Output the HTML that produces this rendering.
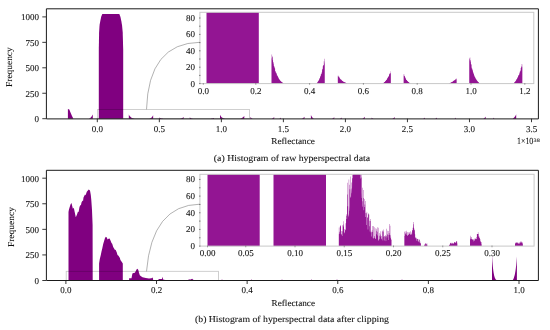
<!DOCTYPE html>
<html><head><meta charset="utf-8"><style>
html,body{margin:0;padding:0;background:#fff;}
svg{display:block;font-family:'Liberation Serif', 'DejaVu Serif', serif;text-rendering:geometricPrecision;}
</style></head><body>
<svg width="550" height="330" viewBox="0 0 550 330">
<rect width="550" height="330" fill="#fff"/>
<polygon points="98.80,118.70 98.80,50.00 99.10,32.30 99.60,25.00 100.20,21.40 101.20,16.80 102.30,14.10 119.30,14.10 120.40,16.80 121.30,21.00 122.00,25.00 122.70,32.30 123.20,50.00 123.20,118.70" fill="#800080" />
<polygon points="67.90,118.70 67.90,109.10 69.30,109.60 70.50,112.50 72.00,116.00 73.40,118.70" fill="#800080" />
<polygon points="92.80,118.70 92.80,114.40 92.48,115.05 92.17,115.62 91.85,116.13 91.53,116.58 91.22,116.97 90.90,117.32 90.58,117.63 90.27,117.90 89.95,118.14 89.63,118.35 89.32,118.54 89.00,118.70" fill="#800080" />
<polygon points="128.81,118.70 128.81,114.55 129.27,115.38 129.74,116.06 130.20,116.61 130.67,117.06 131.13,117.44 131.60,117.74 132.06,117.99 132.53,118.19 132.99,118.36 133.46,118.50 133.92,118.61 134.39,118.70" fill="#800080" />
<polygon points="153.15,118.70 153.15,115.26 152.85,115.81 152.55,116.30 152.25,116.72 151.95,117.08 151.65,117.40 151.35,117.67 151.05,117.91 150.75,118.11 150.45,118.29 150.15,118.45 149.85,118.58 149.55,118.70" fill="#800080" />
<polygon points="159.33,118.70 159.33,117.51 159.71,117.72 160.09,117.90 160.48,118.05 160.86,118.18 161.25,118.29 161.63,118.38 162.01,118.46 162.40,118.52 162.78,118.58 163.17,118.63 163.55,118.67 163.94,118.70" fill="#800080" />
<polygon points="183.62,118.70 183.62,116.99 183.31,117.26 183.01,117.49 182.70,117.70 182.39,117.88 182.08,118.03 181.78,118.17 181.47,118.29 181.16,118.40 180.85,118.49 180.55,118.57 180.24,118.64 179.93,118.70" fill="#800080" />
<polygon points="189.71,118.70 189.71,117.38 189.97,117.62 190.24,117.81 190.51,117.98 190.78,118.12 191.05,118.24 191.32,118.35 191.59,118.43 191.86,118.50 192.13,118.57 192.39,118.62 192.66,118.66 192.93,118.70" fill="#800080" />
<polygon points="213.95,118.70 213.95,118.00 213.65,118.09 213.34,118.18 213.03,118.26 212.72,118.33 212.42,118.39 212.11,118.45 211.80,118.50 211.50,118.55 211.19,118.59 210.88,118.63 210.57,118.67 210.27,118.70" fill="#800080" />
<polygon points="219.99,118.70 219.99,114.71 220.40,115.51 220.80,116.16 221.20,116.69 221.61,117.13 222.01,117.48 222.41,117.78 222.82,118.02 223.22,118.21 223.62,118.37 224.03,118.50 224.43,118.61 224.83,118.70" fill="#800080" />
<polygon points="244.29,118.70 244.29,115.97 243.96,116.37 243.63,116.73 243.30,117.04 242.97,117.32 242.64,117.57 242.31,117.80 241.98,117.99 241.64,118.17 241.31,118.33 240.98,118.47 240.65,118.59 240.32,118.70" fill="#800080" />
<polygon points="250.30,118.70 250.30,117.00 250.51,117.26 250.72,117.48 250.93,117.68 251.13,117.86 251.34,118.02 251.55,118.15 251.76,118.28 251.97,118.38 252.18,118.48 252.38,118.56 252.59,118.63 252.80,118.70" fill="#800080" />
<polygon points="310.90,118.70 310.90,115.00 311.15,115.56 311.40,116.05 311.65,116.49 311.90,116.87 312.15,117.21 312.40,117.51 312.65,117.78 312.90,118.01 313.15,118.22 313.40,118.40 313.65,118.56 313.90,118.70" fill="#800080" />
<polygon points="371.50,118.70 371.50,117.60 371.67,117.77 371.83,117.91 372.00,118.04 372.17,118.16 372.33,118.26 372.50,118.35 372.67,118.43 372.83,118.50 373.00,118.56 373.17,118.61 373.33,118.66 373.50,118.70" fill="#800080" />
<polygon points="493.00,118.70 493.00,117.60 493.12,117.77 493.25,117.91 493.38,118.04 493.50,118.16 493.62,118.26 493.75,118.35 493.88,118.43 494.00,118.50 494.12,118.56 494.25,118.61 494.38,118.66 494.50,118.70" fill="#800080" />
<polygon points="274.20,118.70 274.20,117.00 273.99,117.23 273.78,117.44 273.57,117.63 273.37,117.80 273.16,117.96 272.95,118.10 272.74,118.22 272.53,118.34 272.32,118.44 272.12,118.54 271.91,118.62 271.70,118.70" fill="#800080" />
<polygon points="281.00,118.70 281.00,117.60 280.85,117.75 280.70,117.89 280.55,118.01 280.40,118.12 280.25,118.22 280.10,118.31 279.95,118.39 279.80,118.47 279.65,118.53 279.50,118.60 279.35,118.65 279.20,118.70" fill="#800080" />
<polygon points="304.50,118.70 304.50,116.80 304.27,117.06 304.03,117.29 303.80,117.50 303.57,117.70 303.33,117.87 303.10,118.03 302.87,118.17 302.63,118.30 302.40,118.41 302.17,118.52 301.93,118.61 301.70,118.70" fill="#800080" />
<polygon points="334.30,118.70 334.30,117.20 334.09,117.40 333.88,117.59 333.68,117.76 333.47,117.91 333.26,118.04 333.05,118.17 332.84,118.28 332.63,118.38 332.43,118.47 332.22,118.56 332.01,118.63 331.80,118.70" fill="#800080" />
<polygon points="341.80,118.70 341.80,117.50 341.63,117.66 341.47,117.81 341.30,117.95 341.13,118.07 340.97,118.18 340.80,118.27 340.63,118.36 340.47,118.45 340.30,118.52 340.13,118.59 339.97,118.65 339.80,118.70" fill="#800080" />
<polygon points="364.80,118.70 364.80,116.80 364.59,117.06 364.38,117.29 364.18,117.50 363.97,117.70 363.76,117.87 363.55,118.03 363.34,118.17 363.13,118.30 362.93,118.41 362.72,118.52 362.51,118.61 362.30,118.70" fill="#800080" />
<polygon points="394.80,118.70 394.80,117.00 394.59,117.23 394.38,117.44 394.18,117.63 393.97,117.80 393.76,117.96 393.55,118.10 393.34,118.22 393.13,118.34 392.93,118.44 392.72,118.54 392.51,118.62 392.30,118.70" fill="#800080" />
<polygon points="425.00,118.70 425.00,117.60 424.83,117.75 424.67,117.89 424.50,118.01 424.33,118.12 424.17,118.22 424.00,118.31 423.83,118.39 423.67,118.47 423.50,118.53 423.33,118.60 423.17,118.65 423.00,118.70" fill="#800080" />
<polygon points="437.00,118.70 437.00,117.60 436.83,117.75 436.67,117.89 436.50,118.01 436.33,118.12 436.17,118.22 436.00,118.31 435.83,118.39 435.67,118.47 435.50,118.53 435.33,118.60 435.17,118.65 435.00,118.70" fill="#800080" />
<polygon points="456.00,118.70 456.00,117.60 455.88,117.75 455.75,117.89 455.62,118.01 455.50,118.12 455.38,118.22 455.25,118.31 455.12,118.39 455.00,118.47 454.88,118.53 454.75,118.60 454.62,118.65 454.50,118.70" fill="#800080" />
<polygon points="485.80,118.70 485.80,116.60 485.59,116.89 485.38,117.14 485.18,117.38 484.97,117.59 484.76,117.78 484.55,117.96 484.34,118.11 484.13,118.25 483.93,118.38 483.72,118.50 483.51,118.60 483.30,118.70" fill="#800080" />
<polygon points="516.20,118.70 516.20,114.30 515.91,114.90 515.62,115.44 515.33,115.93 515.03,116.38 514.74,116.78 514.45,117.14 514.16,117.47 513.87,117.77 513.58,118.04 513.28,118.28 512.99,118.50 512.70,118.70" fill="#800080" />
<rect x="97.7" y="109.4" width="151.8" height="9.3" fill="none" stroke="#000" stroke-opacity="0.24" stroke-width="0.8"/>
<path d="M46.4,8.8 H538.4 V118.9 H46.4 Z" fill="none" stroke="#1a1a1a" stroke-width="1.0" stroke-linejoin="miter"/>
<line x1="42.3" y1="118.70" x2="46.0" y2="118.70" stroke="#222" stroke-width="0.9"/>
<text x="38.90" y="122.20" font-size="9" text-anchor="end" fill="#111" stroke="#111" stroke-width="0.08" >0</text>
<line x1="42.3" y1="93.25" x2="46.0" y2="93.25" stroke="#222" stroke-width="0.9"/>
<text x="38.90" y="96.75" font-size="9" text-anchor="end" fill="#111" stroke="#111" stroke-width="0.08" >250</text>
<line x1="42.3" y1="67.80" x2="46.0" y2="67.80" stroke="#222" stroke-width="0.9"/>
<text x="38.90" y="71.30" font-size="9" text-anchor="end" fill="#111" stroke="#111" stroke-width="0.08" >500</text>
<line x1="42.3" y1="42.35" x2="46.0" y2="42.35" stroke="#222" stroke-width="0.9"/>
<text x="38.90" y="45.85" font-size="9" text-anchor="end" fill="#111" stroke="#111" stroke-width="0.08" >750</text>
<line x1="42.3" y1="16.90" x2="46.0" y2="16.90" stroke="#222" stroke-width="0.9"/>
<text x="38.90" y="20.40" font-size="9" text-anchor="end" fill="#111" stroke="#111" stroke-width="0.08" >1000</text>
<line x1="97.30" y1="118.7" x2="97.30" y2="122.2" stroke="#222" stroke-width="0.9"/>
<text x="97.30" y="131.70" font-size="9" text-anchor="middle" fill="#111" stroke="#111" stroke-width="0.08" >0.0</text>
<line x1="159.33" y1="118.7" x2="159.33" y2="122.2" stroke="#222" stroke-width="0.9"/>
<text x="159.33" y="131.70" font-size="9" text-anchor="middle" fill="#111" stroke="#111" stroke-width="0.08" >0.5</text>
<line x1="221.36" y1="118.7" x2="221.36" y2="122.2" stroke="#222" stroke-width="0.9"/>
<text x="221.36" y="131.70" font-size="9" text-anchor="middle" fill="#111" stroke="#111" stroke-width="0.08" >1.0</text>
<line x1="283.39" y1="118.7" x2="283.39" y2="122.2" stroke="#222" stroke-width="0.9"/>
<text x="283.39" y="131.70" font-size="9" text-anchor="middle" fill="#111" stroke="#111" stroke-width="0.08" >1.5</text>
<line x1="345.42" y1="118.7" x2="345.42" y2="122.2" stroke="#222" stroke-width="0.9"/>
<text x="345.42" y="131.70" font-size="9" text-anchor="middle" fill="#111" stroke="#111" stroke-width="0.08" >2.0</text>
<line x1="407.45" y1="118.7" x2="407.45" y2="122.2" stroke="#222" stroke-width="0.9"/>
<text x="407.45" y="131.70" font-size="9" text-anchor="middle" fill="#111" stroke="#111" stroke-width="0.08" >2.5</text>
<line x1="469.48" y1="118.7" x2="469.48" y2="122.2" stroke="#222" stroke-width="0.9"/>
<text x="469.48" y="131.70" font-size="9" text-anchor="middle" fill="#111" stroke="#111" stroke-width="0.08" >3.0</text>
<line x1="531.51" y1="118.7" x2="531.51" y2="122.2" stroke="#222" stroke-width="0.9"/>
<text x="531.51" y="131.70" font-size="9" text-anchor="middle" fill="#111" stroke="#111" stroke-width="0.08" >3.5</text>
<text x="517.00" y="144.00" font-size="9.3" text-anchor="start" fill="#111" stroke="#111" stroke-width="0.08" textLength="16.3" lengthAdjust="spacingAndGlyphs">1×10</text>
<text x="533.60" y="141.60" font-size="5.2" text-anchor="start" fill="#111" stroke="#111" stroke-width="0.08" textLength="6.2" lengthAdjust="spacingAndGlyphs">38</text>
<text x="293.10" y="144.30" font-size="9" text-anchor="middle" fill="#111" stroke="#111" stroke-width="0.08" textLength="43.8" lengthAdjust="spacingAndGlyphs">Reflectance</text>
<text x="292.00" y="160.60" font-size="9" text-anchor="middle" fill="#111" stroke="#111" stroke-width="0.08" textLength="156.3" lengthAdjust="spacingAndGlyphs">(a) Histogram of raw hyperspectral data</text>
<text transform="translate(12.2,67.1) rotate(-90)" x="0" y="0" font-size="9" text-anchor="middle" fill="#111" stroke="#111" stroke-width="0.08" textLength="39.6" lengthAdjust="spacingAndGlyphs">Frequency</text>
<path d="M146.5,109.4 Q148.5,43 199.9,42.3" fill="none" stroke="#888" stroke-width="0.65"/>
<rect x="199.9" y="12.3" width="333.9" height="71.3" fill="#fff"/>
<rect x="206.5" y="12.3" width="52.30000000000001" height="71.3" fill="#931593"/>
<polygon points="271.70,83.60 271.70,57.52 272.20,60.12 272.71,62.72 273.21,64.85 273.72,66.98 274.22,68.72 274.73,70.46 275.23,71.89 275.73,73.32 276.24,74.48 276.74,75.65 277.25,76.61 277.75,77.56 278.25,78.35 278.76,79.13 279.26,79.77 279.77,80.41 280.27,80.94 280.77,81.46 281.28,81.89 281.78,82.32 282.29,82.67 282.79,83.02 283.30,83.31 283.80,83.60 283.80,83.60" fill="#931593" />
<path d="M271.70,83.6V54.53h0.34V83.6ZM272.04,83.6V56.19h0.34V83.6ZM272.38,83.6V57.31h0.34V83.6ZM272.72,83.6V60.36h0.34V83.6ZM273.06,83.6V61.90h0.34V83.6ZM273.40,83.6V63.38h0.34V83.6ZM273.74,83.6V66.01h0.34V83.6ZM274.08,83.6V66.42h0.34V83.6ZM274.42,83.6V67.57h0.34V83.6ZM274.76,83.6V68.56h0.34V83.6ZM275.10,83.6V71.13h0.34V83.6ZM275.44,83.6V71.60h0.34V83.6ZM275.78,83.6V73.09h0.34V83.6ZM276.12,83.6V72.81h0.34V83.6ZM276.46,83.6V73.87h0.34V83.6ZM276.80,83.6V75.69h0.34V83.6ZM277.14,83.6V75.23h0.34V83.6ZM277.48,83.6V76.03h0.34V83.6ZM277.82,83.6V76.91h0.34V83.6ZM278.16,83.6V77.56h0.34V83.6ZM278.50,83.6V78.55h0.34V83.6ZM278.84,83.6V79.31h0.34V83.6ZM279.18,83.6V79.27h0.34V83.6ZM279.52,83.6V80.11h0.34V83.6ZM279.86,83.6V80.38h0.34V83.6ZM280.20,83.6V80.74h0.34V83.6ZM280.54,83.6V81.29h0.34V83.6ZM280.88,83.6V81.40h0.34V83.6ZM281.22,83.6V81.74h0.34V83.6ZM281.56,83.6V82.01h0.34V83.6ZM281.90,83.6V82.34h0.34V83.6ZM282.24,83.6V82.61h0.34V83.6ZM282.58,83.6V82.90h0.34V83.6ZM282.92,83.6V83.12h0.34V83.6ZM283.26,83.6V83.36h0.34V83.6ZM283.60,83.6V83.54h0.20V83.6Z" fill="#931593"/>
<polygon points="316.70,83.60 316.70,83.60 317.22,83.01 317.74,82.35 318.26,81.62 318.78,80.81 319.30,79.91 319.82,78.87 320.34,77.72 320.86,76.43 321.38,75.00 321.90,73.41 322.42,71.58 322.94,69.54 323.46,67.27 323.98,64.75 324.50,61.95 324.50,83.60" fill="#931593" />
<path d="M316.70,83.6V83.37h0.34V83.6ZM317.04,83.6V82.90h0.34V83.6ZM317.38,83.6V82.39h0.34V83.6ZM317.72,83.6V81.87h0.34V83.6ZM318.06,83.6V81.41h0.34V83.6ZM318.40,83.6V80.86h0.34V83.6ZM318.74,83.6V80.21h0.34V83.6ZM319.08,83.6V79.76h0.34V83.6ZM319.42,83.6V78.50h0.34V83.6ZM319.76,83.6V77.90h0.34V83.6ZM320.10,83.6V76.70h0.34V83.6ZM320.44,83.6V76.11h0.34V83.6ZM320.78,83.6V74.58h0.34V83.6ZM321.12,83.6V73.54h0.34V83.6ZM321.46,83.6V74.16h0.34V83.6ZM321.80,83.6V72.03h0.34V83.6ZM322.14,83.6V69.52h0.34V83.6ZM322.48,83.6V68.66h0.34V83.6ZM322.82,83.6V66.22h0.34V83.6ZM323.16,83.6V65.56h0.34V83.6ZM323.50,83.6V65.08h0.34V83.6ZM323.84,83.6V61.20h0.34V83.6ZM324.18,83.6V58.74h0.32V83.6Z" fill="#931593"/>
<polygon points="337.90,83.60 337.90,76.14 338.40,76.93 338.90,77.69 339.40,78.36 339.90,78.96 340.40,79.53 340.90,80.02 341.40,80.47 341.90,80.88 342.40,81.25 342.90,81.59 343.40,81.89 343.90,82.16 344.40,82.41 344.90,82.63 345.40,82.84 345.90,83.02 346.40,83.19 346.90,83.34 347.40,83.47 347.90,83.60 347.90,83.60" fill="#931593" />
<path d="M337.90,83.6V75.53h0.34V83.6ZM338.24,83.6V76.46h0.34V83.6ZM338.58,83.6V76.64h0.34V83.6ZM338.92,83.6V76.72h0.34V83.6ZM339.26,83.6V77.39h0.34V83.6ZM339.60,83.6V78.40h0.34V83.6ZM339.94,83.6V78.69h0.34V83.6ZM340.28,83.6V79.27h0.34V83.6ZM340.62,83.6V79.68h0.34V83.6ZM340.96,83.6V79.56h0.34V83.6ZM341.30,83.6V80.22h0.34V83.6ZM341.64,83.6V80.34h0.34V83.6ZM341.98,83.6V80.68h0.34V83.6ZM342.32,83.6V81.07h0.34V83.6ZM342.66,83.6V81.15h0.34V83.6ZM343.00,83.6V81.59h0.34V83.6ZM343.34,83.6V81.65h0.34V83.6ZM343.68,83.6V82.01h0.34V83.6ZM344.02,83.6V82.11h0.34V83.6ZM344.36,83.6V82.34h0.34V83.6ZM344.70,83.6V82.50h0.34V83.6ZM345.04,83.6V82.58h0.34V83.6ZM345.38,83.6V82.76h0.34V83.6ZM345.72,83.6V82.94h0.34V83.6ZM346.06,83.6V83.03h0.34V83.6ZM346.40,83.6V83.20h0.34V83.6ZM346.74,83.6V83.30h0.34V83.6ZM347.08,83.6V83.40h0.34V83.6ZM347.42,83.6V83.51h0.34V83.6ZM347.76,83.6V83.58h0.14V83.6Z" fill="#931593"/>
<polygon points="382.60,83.60 382.60,83.60 383.10,83.31 383.60,82.99 384.10,82.64 384.60,82.26 385.10,81.83 385.60,81.35 386.10,80.84 386.60,80.27 387.10,79.62 387.60,78.91 388.10,78.14 388.60,77.30 389.10,76.33 389.60,75.27 390.10,74.12 390.60,72.86 390.60,83.60" fill="#931593" />
<path d="M382.60,83.6V83.48h0.34V83.6ZM382.94,83.6V83.27h0.34V83.6ZM383.28,83.6V83.03h0.34V83.6ZM383.62,83.6V82.71h0.34V83.6ZM383.96,83.6V82.49h0.34V83.6ZM384.30,83.6V82.20h0.34V83.6ZM384.64,83.6V81.98h0.34V83.6ZM384.98,83.6V81.65h0.34V83.6ZM385.32,83.6V81.09h0.34V83.6ZM385.66,83.6V80.83h0.34V83.6ZM386.00,83.6V80.26h0.34V83.6ZM386.34,83.6V79.92h0.34V83.6ZM386.68,83.6V79.38h0.34V83.6ZM387.02,83.6V78.61h0.34V83.6ZM387.36,83.6V78.29h0.34V83.6ZM387.70,83.6V77.62h0.34V83.6ZM388.04,83.6V76.79h0.34V83.6ZM388.38,83.6V76.74h0.34V83.6ZM388.72,83.6V76.09h0.34V83.6ZM389.06,83.6V74.47h0.34V83.6ZM389.40,83.6V73.68h0.34V83.6ZM389.74,83.6V73.49h0.34V83.6ZM390.08,83.6V72.72h0.34V83.6ZM390.42,83.6V71.07h0.18V83.6Z" fill="#931593"/>
<polygon points="403.80,83.60 403.80,75.32 404.30,76.58 404.80,77.68 405.30,78.64 405.80,79.47 406.30,80.19 406.80,80.82 407.30,81.37 407.80,81.84 408.30,82.24 408.80,82.59 409.30,82.90 409.80,83.17 410.30,83.40 410.80,83.60 410.80,83.60" fill="#931593" />
<path d="M403.80,83.6V74.07h0.34V83.6ZM404.14,83.6V75.86h0.34V83.6ZM404.48,83.6V76.01h0.34V83.6ZM404.82,83.6V76.89h0.34V83.6ZM405.16,83.6V77.83h0.34V83.6ZM405.50,83.6V78.61h0.34V83.6ZM405.84,83.6V79.47h0.34V83.6ZM406.18,83.6V80.09h0.34V83.6ZM406.52,83.6V80.06h0.34V83.6ZM406.86,83.6V80.79h0.34V83.6ZM407.20,83.6V81.03h0.34V83.6ZM407.54,83.6V81.53h0.34V83.6ZM407.88,83.6V81.72h0.34V83.6ZM408.22,83.6V82.08h0.34V83.6ZM408.56,83.6V82.41h0.34V83.6ZM408.90,83.6V82.67h0.34V83.6ZM409.24,83.6V82.84h0.34V83.6ZM409.58,83.6V83.11h0.34V83.6ZM409.92,83.6V83.27h0.34V83.6ZM410.26,83.6V83.43h0.34V83.6ZM410.60,83.6V83.55h0.20V83.6Z" fill="#931593"/>
<polygon points="448.40,83.60 448.40,83.60 448.90,83.45 449.40,83.29 449.90,83.12 450.40,82.93 450.90,82.73 451.40,82.51 451.90,82.28 452.40,82.03 452.90,81.76 453.40,81.46 453.90,81.15 454.40,80.81 454.90,80.44 455.40,80.05 455.90,79.62 456.40,79.17 456.40,83.60" fill="#931593" />
<path d="M448.40,83.6V83.54h0.34V83.6ZM448.74,83.6V83.43h0.34V83.6ZM449.08,83.6V83.28h0.34V83.6ZM449.42,83.6V83.18h0.34V83.6ZM449.76,83.6V83.09h0.34V83.6ZM450.10,83.6V82.90h0.34V83.6ZM450.44,83.6V82.73h0.34V83.6ZM450.78,83.6V82.65h0.34V83.6ZM451.12,83.6V82.45h0.34V83.6ZM451.46,83.6V82.24h0.34V83.6ZM451.80,83.6V82.01h0.34V83.6ZM452.14,83.6V81.94h0.34V83.6ZM452.48,83.6V81.66h0.34V83.6ZM452.82,83.6V81.31h0.34V83.6ZM453.16,83.6V81.05h0.34V83.6ZM453.50,83.6V80.87h0.34V83.6ZM453.84,83.6V80.61h0.34V83.6ZM454.18,83.6V80.37h0.34V83.6ZM454.52,83.6V80.33h0.34V83.6ZM454.86,83.6V80.18h0.34V83.6ZM455.20,83.6V79.94h0.34V83.6ZM455.54,83.6V78.98h0.34V83.6ZM455.88,83.6V78.72h0.34V83.6ZM456.22,83.6V78.32h0.18V83.6Z" fill="#931593"/>
<polygon points="469.50,83.60 469.50,58.51 470.00,61.37 470.50,64.10 471.00,66.44 471.50,68.56 472.00,70.48 472.50,72.14 473.00,73.70 473.50,74.99 474.00,76.21 474.50,77.27 475.00,78.22 475.50,79.08 476.00,79.83 476.50,80.53 477.00,81.11 477.50,81.66 478.00,82.13 478.50,82.56 479.00,82.95 479.50,83.28 480.00,83.60 480.00,83.60" fill="#931593" />
<path d="M469.50,83.6V58.54h0.34V83.6ZM469.84,83.6V57.45h0.34V83.6ZM470.18,83.6V60.06h0.34V83.6ZM470.52,83.6V61.44h0.34V83.6ZM470.86,83.6V64.33h0.34V83.6ZM471.20,83.6V64.59h0.34V83.6ZM471.54,83.6V68.39h0.34V83.6ZM471.88,83.6V68.48h0.34V83.6ZM472.22,83.6V69.51h0.34V83.6ZM472.56,83.6V70.61h0.34V83.6ZM472.90,83.6V72.02h0.34V83.6ZM473.24,83.6V73.10h0.34V83.6ZM473.58,83.6V74.02h0.34V83.6ZM473.92,83.6V74.89h0.34V83.6ZM474.26,83.6V76.23h0.34V83.6ZM474.60,83.6V76.71h0.34V83.6ZM474.94,83.6V77.33h0.34V83.6ZM475.28,83.6V78.05h0.34V83.6ZM475.62,83.6V78.91h0.34V83.6ZM475.96,83.6V79.30h0.34V83.6ZM476.30,83.6V79.85h0.34V83.6ZM476.64,83.6V80.43h0.34V83.6ZM476.98,83.6V80.86h0.34V83.6ZM477.32,83.6V81.37h0.34V83.6ZM477.66,83.6V81.69h0.34V83.6ZM478.00,83.6V82.05h0.34V83.6ZM478.34,83.6V82.50h0.34V83.6ZM478.68,83.6V82.70h0.34V83.6ZM479.02,83.6V82.96h0.34V83.6ZM479.36,83.6V83.24h0.34V83.6ZM479.70,83.6V83.49h0.30V83.6Z" fill="#931593"/>
<polygon points="513.60,83.60 513.60,83.60 514.11,83.11 514.61,82.58 515.12,82.02 515.62,81.40 516.13,80.73 516.64,80.00 517.14,79.22 517.65,78.35 518.15,77.42 518.66,76.42 519.16,75.31 519.67,74.11 520.18,72.83 520.68,71.43 521.19,69.88 521.69,68.23 522.20,66.46 522.20,83.60" fill="#931593" />
<path d="M513.60,83.6V83.41h0.34V83.6ZM513.94,83.6V83.01h0.34V83.6ZM514.28,83.6V82.61h0.34V83.6ZM514.62,83.6V82.20h0.34V83.6ZM514.96,83.6V81.68h0.34V83.6ZM515.30,83.6V81.45h0.34V83.6ZM515.64,83.6V80.68h0.34V83.6ZM515.98,83.6V80.57h0.34V83.6ZM516.32,83.6V79.62h0.34V83.6ZM516.66,83.6V79.09h0.34V83.6ZM517.00,83.6V78.67h0.34V83.6ZM517.34,83.6V77.65h0.34V83.6ZM517.68,83.6V77.08h0.34V83.6ZM518.02,83.6V76.24h0.34V83.6ZM518.36,83.6V75.21h0.34V83.6ZM518.70,83.6V75.05h0.34V83.6ZM519.04,83.6V74.96h0.34V83.6ZM519.38,83.6V73.22h0.34V83.6ZM519.72,83.6V71.71h0.34V83.6ZM520.06,83.6V71.51h0.34V83.6ZM520.40,83.6V70.57h0.34V83.6ZM520.74,83.6V68.03h0.34V83.6ZM521.08,83.6V67.15h0.34V83.6ZM521.42,83.6V66.29h0.34V83.6ZM521.76,83.6V64.03h0.34V83.6ZM522.10,83.6V64.39h0.10V83.6Z" fill="#931593"/>
<rect x="199.9" y="12.3" width="333.9" height="71.3" fill="none" stroke="#c8c8c8" stroke-width="1"/>
<text x="195.00" y="86.65" font-size="9" text-anchor="end" fill="#111" stroke="#111" stroke-width="0.08" >0</text>
<text x="195.00" y="70.25" font-size="9" text-anchor="end" fill="#111" stroke="#111" stroke-width="0.08" >20</text>
<text x="195.00" y="53.85" font-size="9" text-anchor="end" fill="#111" stroke="#111" stroke-width="0.08" >40</text>
<text x="195.00" y="37.45" font-size="9" text-anchor="end" fill="#111" stroke="#111" stroke-width="0.08" >60</text>
<text x="195.00" y="21.05" font-size="9" text-anchor="end" fill="#111" stroke="#111" stroke-width="0.08" >80</text>
<line x1="199.0" y1="83.60" x2="200.5" y2="83.60" stroke="#555" stroke-width="0.7"/>
<line x1="199.0" y1="75.40" x2="200.5" y2="75.40" stroke="#555" stroke-width="0.7"/>
<line x1="199.0" y1="67.20" x2="200.5" y2="67.20" stroke="#555" stroke-width="0.7"/>
<line x1="199.0" y1="59.00" x2="200.5" y2="59.00" stroke="#555" stroke-width="0.7"/>
<line x1="199.0" y1="50.80" x2="200.5" y2="50.80" stroke="#555" stroke-width="0.7"/>
<line x1="199.0" y1="42.60" x2="200.5" y2="42.60" stroke="#555" stroke-width="0.7"/>
<line x1="199.0" y1="34.40" x2="200.5" y2="34.40" stroke="#555" stroke-width="0.7"/>
<line x1="199.0" y1="26.20" x2="200.5" y2="26.20" stroke="#555" stroke-width="0.7"/>
<line x1="199.0" y1="18.00" x2="200.5" y2="18.00" stroke="#555" stroke-width="0.7"/>
<line x1="203.30" y1="83.0" x2="203.30" y2="84.8" stroke="#666" stroke-width="0.6"/>
<text x="203.30" y="93.80" font-size="9" text-anchor="middle" fill="#111" stroke="#111" stroke-width="0.08" >0.0</text>
<line x1="255.80" y1="83.0" x2="255.80" y2="84.8" stroke="#666" stroke-width="0.6"/>
<text x="255.80" y="93.80" font-size="9" text-anchor="middle" fill="#111" stroke="#111" stroke-width="0.08" >0.2</text>
<line x1="309.60" y1="83.0" x2="309.60" y2="84.8" stroke="#666" stroke-width="0.6"/>
<text x="309.60" y="93.80" font-size="9" text-anchor="middle" fill="#111" stroke="#111" stroke-width="0.08" >0.4</text>
<line x1="363.40" y1="83.0" x2="363.40" y2="84.8" stroke="#666" stroke-width="0.6"/>
<text x="363.40" y="93.80" font-size="9" text-anchor="middle" fill="#111" stroke="#111" stroke-width="0.08" >0.6</text>
<line x1="417.20" y1="83.0" x2="417.20" y2="84.8" stroke="#666" stroke-width="0.6"/>
<text x="417.20" y="93.80" font-size="9" text-anchor="middle" fill="#111" stroke="#111" stroke-width="0.08" >0.8</text>
<line x1="471.00" y1="83.0" x2="471.00" y2="84.8" stroke="#666" stroke-width="0.6"/>
<text x="471.00" y="93.80" font-size="9" text-anchor="middle" fill="#111" stroke="#111" stroke-width="0.08" >1.0</text>
<line x1="524.80" y1="83.0" x2="524.80" y2="84.8" stroke="#666" stroke-width="0.6"/>
<text x="524.80" y="93.80" font-size="9" text-anchor="middle" fill="#111" stroke="#111" stroke-width="0.08" >1.2</text>
<polygon points="68.50,280.50 68.50,212.00 68.90,209.80 69.70,207.00 70.60,204.20 71.50,203.10 72.20,206.00 72.90,208.80 73.80,207.80 74.70,212.00 75.80,217.30 77.00,214.50 78.00,211.50 78.60,212.30 79.40,207.50 80.30,204.80 80.80,205.80 81.50,202.50 82.50,200.50 83.00,201.20 83.50,197.60 85.00,194.50 85.60,195.20 86.80,191.80 88.70,189.60 90.00,190.50 90.80,195.00 91.30,200.00 92.00,210.00 92.60,225.00 92.70,280.50" fill="#800080" />
<polygon points="99.10,280.50 99.10,263.50 99.80,259.00 100.80,255.00 101.50,251.50 102.30,248.20 103.20,244.00 104.10,240.90 105.00,238.00 105.90,236.70 106.80,237.50 107.60,239.50 108.50,238.80 109.60,238.50 110.50,240.50 111.50,243.00 112.20,243.80 113.20,247.00 115.00,250.00 115.60,249.80 116.80,252.50 117.50,255.00 118.50,255.80 119.90,257.90 120.40,260.10 121.50,261.50 122.80,263.50 122.80,280.50" fill="#800080" />
<polygon points="129.10,280.50 129.10,278.20 131.50,278.20 132.40,273.50 133.50,273.00 134.90,272.70 135.80,271.00 136.70,269.20 137.50,268.70 138.30,270.00 139.00,272.80 139.80,275.20 141.00,276.30 142.50,277.30 145.80,278.10 149.00,278.50 151.50,278.30 152.40,277.60 153.00,278.50 153.20,280.50" fill="#800080" />
<polygon points="158.53,280.50 158.53,278.91 161.90,278.91 162.45,276.84 163.04,279.22 163.73,279.73 165.78,280.07 165.78,280.50" fill="#800080" />
<polygon points="167.38,280.50 167.38,280.18 169.07,280.18 169.07,280.50" fill="#800080" />
<polygon points="179.02,280.50 179.02,280.04 180.61,279.95 182.62,279.92 182.62,280.50" fill="#800080" />
<polygon points="188.60,280.50 188.60,279.27 189.74,279.41 190.66,279.50 191.57,278.96 192.16,278.65 192.71,279.22 193.58,280.07 193.58,280.50" fill="#800080" />
<polygon points="208.91,280.50 208.91,280.04 210.74,279.95 212.38,279.88 212.38,280.50" fill="#800080" />
<polygon points="492.00,280.50 492.00,255.00 492.42,261.65 492.83,266.62 493.25,270.33 493.67,273.11 494.08,275.18 494.50,276.72 494.92,277.88 495.33,278.74 495.75,279.39 496.17,279.87 496.58,280.23 497.00,280.50" fill="#800080" />
<polygon points="516.90,280.50 516.90,256.60 516.52,261.50 516.15,265.47 515.77,268.70 515.40,271.32 515.02,273.45 514.65,275.18 514.27,276.58 513.90,277.72 513.52,278.64 513.15,279.40 512.77,280.00 512.40,280.50" fill="#800080" />
<polygon points="220.80,280.50 222.00,279.60 223.20,280.50" fill="#800080" />
<polygon points="250.30,280.50 251.50,279.60 252.70,280.50" fill="#800080" />
<polygon points="280.80,280.50 282.00,279.60 283.20,280.50" fill="#800080" />
<polygon points="310.30,280.50 311.50,279.60 312.70,280.50" fill="#800080" />
<polygon points="335.80,280.50 337.00,279.60 338.20,280.50" fill="#800080" />
<polygon points="370.80,280.50 372.00,279.60 373.20,280.50" fill="#800080" />
<polygon points="400.80,280.50 402.00,279.60 403.20,280.50" fill="#800080" />
<rect x="66.2" y="271.3" width="152.3" height="9.2" fill="none" stroke="#000" stroke-opacity="0.24" stroke-width="0.8"/>
<path d="M46.4,170.3 H538.4 V280.5 H46.4 Z" fill="none" stroke="#1a1a1a" stroke-width="1.0" stroke-linejoin="miter"/>
<line x1="42.3" y1="280.50" x2="46.0" y2="280.50" stroke="#222" stroke-width="0.9"/>
<text x="38.90" y="284.00" font-size="9" text-anchor="end" fill="#111" stroke="#111" stroke-width="0.08" >0</text>
<line x1="42.3" y1="254.93" x2="46.0" y2="254.93" stroke="#222" stroke-width="0.9"/>
<text x="38.90" y="258.43" font-size="9" text-anchor="end" fill="#111" stroke="#111" stroke-width="0.08" >250</text>
<line x1="42.3" y1="229.35" x2="46.0" y2="229.35" stroke="#222" stroke-width="0.9"/>
<text x="38.90" y="232.85" font-size="9" text-anchor="end" fill="#111" stroke="#111" stroke-width="0.08" >500</text>
<line x1="42.3" y1="203.77" x2="46.0" y2="203.77" stroke="#222" stroke-width="0.9"/>
<text x="38.90" y="207.27" font-size="9" text-anchor="end" fill="#111" stroke="#111" stroke-width="0.08" >750</text>
<line x1="42.3" y1="178.20" x2="46.0" y2="178.20" stroke="#222" stroke-width="0.9"/>
<text x="38.90" y="181.70" font-size="9" text-anchor="end" fill="#111" stroke="#111" stroke-width="0.08" >1000</text>
<line x1="65.90" y1="280.5" x2="65.90" y2="284" stroke="#222" stroke-width="0.9"/>
<text x="65.90" y="292.50" font-size="9" text-anchor="middle" fill="#111" stroke="#111" stroke-width="0.08" >0.0</text>
<line x1="156.52" y1="280.5" x2="156.52" y2="284" stroke="#222" stroke-width="0.9"/>
<text x="156.52" y="292.50" font-size="9" text-anchor="middle" fill="#111" stroke="#111" stroke-width="0.08" >0.2</text>
<line x1="247.14" y1="280.5" x2="247.14" y2="284" stroke="#222" stroke-width="0.9"/>
<text x="247.14" y="292.50" font-size="9" text-anchor="middle" fill="#111" stroke="#111" stroke-width="0.08" >0.4</text>
<line x1="337.76" y1="280.5" x2="337.76" y2="284" stroke="#222" stroke-width="0.9"/>
<text x="337.76" y="292.50" font-size="9" text-anchor="middle" fill="#111" stroke="#111" stroke-width="0.08" >0.6</text>
<line x1="428.38" y1="280.5" x2="428.38" y2="284" stroke="#222" stroke-width="0.9"/>
<text x="428.38" y="292.50" font-size="9" text-anchor="middle" fill="#111" stroke="#111" stroke-width="0.08" >0.8</text>
<line x1="519.00" y1="280.5" x2="519.00" y2="284" stroke="#222" stroke-width="0.9"/>
<text x="519.00" y="292.50" font-size="9" text-anchor="middle" fill="#111" stroke="#111" stroke-width="0.08" >1.0</text>
<text x="293.30" y="306.00" font-size="9" text-anchor="middle" fill="#111" stroke="#111" stroke-width="0.08" textLength="43.4" lengthAdjust="spacingAndGlyphs">Reflectance</text>
<text x="292.00" y="321.50" font-size="9" text-anchor="middle" fill="#111" stroke="#111" stroke-width="0.08" textLength="194" lengthAdjust="spacingAndGlyphs">(b) Histogram of hyperspectral data after clipping</text>
<text transform="translate(13.8,227.1) rotate(-90)" x="0" y="0" font-size="9" text-anchor="middle" fill="#111" stroke="#111" stroke-width="0.08" textLength="40" lengthAdjust="spacingAndGlyphs">Frequency</text>
<path d="M146.5,271.4 Q152,205 199.9,204.2" fill="none" stroke="#888" stroke-width="0.65"/>
<rect x="199.9" y="174.3" width="334.20000000000005" height="71.79999999999998" fill="#fff"/>
<rect x="207.5" y="174.3" width="52.19999999999999" height="71.79999999999998" fill="#931593"/>
<rect x="273.5" y="174.3" width="52.5" height="71.79999999999998" fill="#931593"/>
<polygon points="338.90,246.10 338.90,234.00 341.00,238.00 343.00,236.00 345.00,234.00 346.50,228.00 348.00,220.00 349.50,210.00 351.00,198.00 352.50,184.00 353.40,174.30 359.70,174.30 360.80,190.00 362.00,205.00 363.50,215.00 365.00,224.00 367.00,230.00 369.00,234.00 372.00,238.00 376.00,240.00 380.00,242.00 384.00,242.00 387.00,241.00 389.40,240.00 391.30,240.00 391.30,246.10" fill="#931593" />
<path d="M338.90,246.1V227.44h0.34V246.1ZM339.24,246.1V233.67h0.34V246.1ZM339.58,246.1V231.68h0.34V246.1ZM339.92,246.1V226.56h0.34V246.1ZM340.26,246.1V225.04h0.34V246.1ZM340.60,246.1V226.03h0.34V246.1ZM340.94,246.1V234.22h0.34V246.1ZM341.28,246.1V230.97h0.34V246.1ZM341.62,246.1V234.41h0.34V246.1ZM341.96,246.1V236.01h0.34V246.1ZM342.30,246.1V231.28h0.34V246.1ZM342.64,246.1V225.28h0.34V246.1ZM342.98,246.1V224.60h0.34V246.1ZM343.32,246.1V226.52h0.34V246.1ZM343.66,246.1V221.37h0.34V246.1ZM344.00,246.1V232.32h0.34V246.1ZM344.34,246.1V233.20h0.34V246.1ZM344.68,246.1V228.96h0.34V246.1ZM345.02,246.1V230.28h0.34V246.1ZM345.36,246.1V229.38h0.34V246.1ZM345.70,246.1V223.17h0.34V246.1ZM346.04,246.1V214.17h0.34V246.1ZM346.38,246.1V215.67h0.34V246.1ZM346.72,246.1V218.94h0.34V246.1ZM347.06,246.1V194.51h0.34V246.1ZM347.40,246.1V182.75h0.34V246.1ZM347.74,246.1V206.22h0.34V246.1ZM348.08,246.1V217.19h0.34V246.1ZM348.42,246.1V215.73h0.34V246.1ZM348.76,246.1V179.48h0.34V246.1ZM349.10,246.1V211.06h0.34V246.1ZM349.44,246.1V184.79h0.34V246.1ZM349.78,246.1V189.26h0.34V246.1ZM350.12,246.1V196.77h0.34V246.1ZM350.46,246.1V176.47h0.34V246.1ZM350.80,246.1V198.11h0.34V246.1ZM351.14,246.1V193.25h0.34V246.1ZM351.48,246.1V182.46h0.34V246.1ZM351.82,246.1V188.61h0.34V246.1ZM352.16,246.1V174.30h0.34V246.1ZM352.50,246.1V178.25h0.34V246.1ZM352.84,246.1V174.67h0.34V246.1ZM353.18,246.1V174.30h0.34V246.1ZM353.52,246.1V174.30h0.34V246.1ZM353.86,246.1V174.30h0.34V246.1ZM354.20,246.1V174.30h0.34V246.1ZM354.54,246.1V174.30h0.34V246.1ZM354.88,246.1V174.30h0.34V246.1ZM355.22,246.1V174.30h0.34V246.1ZM355.56,246.1V174.30h0.34V246.1ZM355.90,246.1V174.30h0.34V246.1ZM356.24,246.1V174.30h0.34V246.1ZM356.58,246.1V174.30h0.34V246.1ZM356.92,246.1V174.30h0.34V246.1ZM357.26,246.1V174.30h0.34V246.1ZM357.60,246.1V174.30h0.34V246.1ZM357.94,246.1V174.30h0.34V246.1ZM358.28,246.1V174.30h0.34V246.1ZM358.62,246.1V174.30h0.34V246.1ZM358.96,246.1V174.30h0.34V246.1ZM359.30,246.1V174.30h0.34V246.1ZM359.64,246.1V174.30h0.34V246.1ZM359.98,246.1V174.30h0.34V246.1ZM360.32,246.1V178.58h0.34V246.1ZM360.66,246.1V174.30h0.34V246.1ZM361.00,246.1V174.30h0.34V246.1ZM361.34,246.1V197.99h0.34V246.1ZM361.68,246.1V177.39h0.34V246.1ZM362.02,246.1V187.87h0.34V246.1ZM362.36,246.1V206.87h0.34V246.1ZM362.70,246.1V201.21h0.34V246.1ZM363.04,246.1V198.03h0.34V246.1ZM363.38,246.1V189.98h0.34V246.1ZM363.72,246.1V210.14h0.34V246.1ZM364.06,246.1V206.88h0.34V246.1ZM364.40,246.1V198.99h0.34V246.1ZM364.74,246.1V204.41h0.34V246.1ZM365.08,246.1V200.99h0.34V246.1ZM365.42,246.1V217.11h0.34V246.1ZM365.76,246.1V213.03h0.34V246.1ZM366.10,246.1V225.12h0.34V246.1ZM366.44,246.1V213.37h0.34V246.1ZM366.78,246.1V211.69h0.34V246.1ZM367.12,246.1V218.00h0.34V246.1ZM367.46,246.1V216.97h0.34V246.1ZM367.80,246.1V229.40h0.34V246.1ZM368.14,246.1V214.17h0.34V246.1ZM368.48,246.1V213.16h0.34V246.1ZM368.82,246.1V214.59h0.34V246.1ZM369.16,246.1V226.16h0.34V246.1ZM369.50,246.1V220.82h0.34V246.1ZM369.84,246.1V231.42h0.34V246.1ZM370.18,246.1V219.06h0.34V246.1ZM370.52,246.1V221.08h0.34V246.1ZM370.86,246.1V232.44h0.34V246.1ZM371.20,246.1V236.60h0.34V246.1ZM371.54,246.1V231.83h0.34V246.1ZM371.88,246.1V230.24h0.34V246.1ZM372.22,246.1V225.95h0.34V246.1ZM372.56,246.1V231.98h0.34V246.1ZM372.90,246.1V238.42h0.34V246.1ZM373.24,246.1V226.11h0.34V246.1ZM373.58,246.1V238.52h0.34V246.1ZM373.92,246.1V227.02h0.34V246.1ZM374.26,246.1V237.83h0.34V246.1ZM374.60,246.1V235.94h0.34V246.1ZM374.94,246.1V228.33h0.34V246.1ZM375.28,246.1V238.74h0.34V246.1ZM375.62,246.1V238.84h0.34V246.1ZM375.96,246.1V234.13h0.34V246.1ZM376.30,246.1V230.77h0.34V246.1ZM376.64,246.1V228.81h0.34V246.1ZM376.98,246.1V231.83h0.34V246.1ZM377.32,246.1V227.22h0.34V246.1ZM377.66,246.1V235.52h0.34V246.1ZM378.00,246.1V227.65h0.34V246.1ZM378.34,246.1V240.79h0.34V246.1ZM378.68,246.1V239.69h0.34V246.1ZM379.02,246.1V235.81h0.34V246.1ZM379.36,246.1V239.27h0.34V246.1ZM379.70,246.1V232.92h0.34V246.1ZM380.04,246.1V234.55h0.34V246.1ZM380.38,246.1V236.41h0.34V246.1ZM380.72,246.1V231.14h0.34V246.1ZM381.06,246.1V235.92h0.34V246.1ZM381.40,246.1V239.34h0.34V246.1ZM381.74,246.1V238.49h0.34V246.1ZM382.08,246.1V231.38h0.34V246.1ZM382.42,246.1V230.47h0.34V246.1ZM382.76,246.1V240.53h0.34V246.1ZM383.10,246.1V231.49h0.34V246.1ZM383.44,246.1V229.48h0.34V246.1ZM383.78,246.1V236.73h0.34V246.1ZM384.12,246.1V235.94h0.34V246.1ZM384.46,246.1V240.41h0.34V246.1ZM384.80,246.1V236.25h0.34V246.1ZM385.14,246.1V236.59h0.34V246.1ZM385.48,246.1V235.01h0.34V246.1ZM385.82,246.1V241.25h0.34V246.1ZM386.16,246.1V228.78h0.34V246.1ZM386.50,246.1V235.96h0.34V246.1ZM386.84,246.1V237.38h0.34V246.1ZM387.18,246.1V230.79h0.34V246.1ZM387.52,246.1V234.26h0.34V246.1ZM387.86,246.1V234.98h0.34V246.1ZM388.20,246.1V230.98h0.34V246.1ZM388.54,246.1V239.92h0.34V246.1ZM388.88,246.1V232.88h0.34V246.1ZM389.22,246.1V234.78h0.34V246.1ZM389.56,246.1V224.06h0.34V246.1ZM389.90,246.1V225.79h0.34V246.1ZM390.24,246.1V237.64h0.34V246.1ZM390.58,246.1V235.18h0.34V246.1ZM390.92,246.1V239.30h0.34V246.1ZM391.26,246.1V236.25h0.04V246.1Z" fill="#931593"/>
<polygon points="404.60,246.10 404.60,236.00 406.00,236.00 408.00,236.00 410.00,235.00 411.80,236.00 412.50,236.00 413.50,226.00 414.50,234.00 415.20,240.00 417.00,242.00 419.00,243.00 420.70,244.00 420.70,246.10" fill="#931593" />
<path d="M404.60,246.1V231.82h0.34V246.1ZM404.94,246.1V231.17h0.34V246.1ZM405.28,246.1V233.33h0.34V246.1ZM405.62,246.1V234.14h0.34V246.1ZM405.96,246.1V234.86h0.34V246.1ZM406.30,246.1V232.44h0.34V246.1ZM406.64,246.1V230.82h0.34V246.1ZM406.98,246.1V235.30h0.34V246.1ZM407.32,246.1V231.90h0.34V246.1ZM407.66,246.1V235.88h0.34V246.1ZM408.00,246.1V234.94h0.34V246.1ZM408.34,246.1V234.61h0.34V246.1ZM408.68,246.1V232.14h0.34V246.1ZM409.02,246.1V233.79h0.34V246.1ZM409.36,246.1V233.46h0.34V246.1ZM409.70,246.1V231.97h0.34V246.1ZM410.04,246.1V234.57h0.34V246.1ZM410.38,246.1V231.20h0.34V246.1ZM410.72,246.1V234.76h0.34V246.1ZM411.06,246.1V232.43h0.34V246.1ZM411.40,246.1V234.18h0.34V246.1ZM411.74,246.1V234.46h0.34V246.1ZM412.08,246.1V230.58h0.34V246.1ZM412.42,246.1V229.98h0.34V246.1ZM412.76,246.1V227.68h0.34V246.1ZM413.10,246.1V224.29h0.34V246.1ZM413.44,246.1V222.06h0.34V246.1ZM413.78,246.1V228.09h0.34V246.1ZM414.12,246.1V230.32h0.34V246.1ZM414.46,246.1V229.50h0.34V246.1ZM414.80,246.1V234.22h0.34V246.1ZM415.14,246.1V238.00h0.34V246.1ZM415.48,246.1V237.09h0.34V246.1ZM415.82,246.1V238.43h0.34V246.1ZM416.16,246.1V237.83h0.34V246.1ZM416.50,246.1V240.70h0.34V246.1ZM416.84,246.1V239.04h0.34V246.1ZM417.18,246.1V238.93h0.34V246.1ZM417.52,246.1V238.73h0.34V246.1ZM417.86,246.1V241.25h0.34V246.1ZM418.20,246.1V241.43h0.34V246.1ZM418.54,246.1V239.16h0.34V246.1ZM418.88,246.1V242.16h0.34V246.1ZM419.22,246.1V239.24h0.34V246.1ZM419.56,246.1V239.88h0.34V246.1ZM419.90,246.1V243.09h0.34V246.1ZM420.24,246.1V242.87h0.34V246.1ZM420.58,246.1V241.06h0.12V246.1Z" fill="#931593"/>
<polygon points="424.50,246.10 424.50,245.00 427.20,245.00 427.20,246.10" fill="#931593" />
<path d="M424.50,246.1V244.36h0.34V246.1ZM424.84,246.1V244.76h0.34V246.1ZM425.18,246.1V243.00h0.34V246.1ZM425.52,246.1V244.00h0.34V246.1ZM425.86,246.1V243.16h0.34V246.1ZM426.20,246.1V244.71h0.34V246.1ZM426.54,246.1V244.09h0.34V246.1ZM426.88,246.1V243.48h0.32V246.1Z" fill="#931593"/>
<polygon points="449.30,246.10 449.30,245.00 451.00,244.50 453.00,244.00 455.50,243.00 457.20,243.50 457.20,246.10" fill="#931593" />
<path d="M449.30,246.1V244.92h0.34V246.1ZM449.64,246.1V244.52h0.34V246.1ZM449.98,246.1V243.56h0.34V246.1ZM450.32,246.1V242.96h0.34V246.1ZM450.66,246.1V242.66h0.34V246.1ZM451.00,246.1V244.23h0.34V246.1ZM451.34,246.1V243.36h0.34V246.1ZM451.68,246.1V242.77h0.34V246.1ZM452.02,246.1V243.20h0.34V246.1ZM452.36,246.1V242.75h0.34V246.1ZM452.70,246.1V243.65h0.34V246.1ZM453.04,246.1V243.77h0.34V246.1ZM453.38,246.1V243.56h0.34V246.1ZM453.72,246.1V243.56h0.34V246.1ZM454.06,246.1V242.27h0.34V246.1ZM454.40,246.1V242.18h0.34V246.1ZM454.74,246.1V241.88h0.34V246.1ZM455.08,246.1V242.74h0.34V246.1ZM455.42,246.1V242.57h0.34V246.1ZM455.76,246.1V242.64h0.34V246.1ZM456.10,246.1V241.32h0.34V246.1ZM456.44,246.1V241.17h0.34V246.1ZM456.78,246.1V241.50h0.34V246.1ZM457.12,246.1V243.30h0.08V246.1Z" fill="#931593"/>
<polygon points="470.10,246.10 470.10,240.00 470.80,239.00 472.00,241.00 474.00,242.00 476.00,240.00 477.30,239.00 478.30,238.00 479.50,240.00 480.50,243.00 481.40,244.50 481.40,246.10" fill="#931593" />
<path d="M470.10,246.1V239.52h0.34V246.1ZM470.44,246.1V235.81h0.34V246.1ZM470.78,246.1V237.60h0.34V246.1ZM471.12,246.1V236.98h0.34V246.1ZM471.46,246.1V239.13h0.34V246.1ZM471.80,246.1V239.09h0.34V246.1ZM472.14,246.1V239.17h0.34V246.1ZM472.48,246.1V239.74h0.34V246.1ZM472.82,246.1V239.39h0.34V246.1ZM473.16,246.1V241.62h0.34V246.1ZM473.50,246.1V239.62h0.34V246.1ZM473.84,246.1V239.45h0.34V246.1ZM474.18,246.1V241.04h0.34V246.1ZM474.52,246.1V239.62h0.34V246.1ZM474.86,246.1V237.95h0.34V246.1ZM475.20,246.1V238.83h0.34V246.1ZM475.54,246.1V239.35h0.34V246.1ZM475.88,246.1V239.11h0.34V246.1ZM476.22,246.1V236.95h0.34V246.1ZM476.56,246.1V239.35h0.34V246.1ZM476.90,246.1V233.96h0.34V246.1ZM477.24,246.1V233.99h0.34V246.1ZM477.58,246.1V234.00h0.34V246.1ZM477.92,246.1V232.37h0.34V246.1ZM478.26,246.1V234.06h0.34V246.1ZM478.60,246.1V236.52h0.34V246.1ZM478.94,246.1V236.61h0.34V246.1ZM479.28,246.1V238.13h0.34V246.1ZM479.62,246.1V237.64h0.34V246.1ZM479.96,246.1V239.36h0.34V246.1ZM480.30,246.1V242.13h0.34V246.1ZM480.64,246.1V240.94h0.34V246.1ZM480.98,246.1V242.12h0.34V246.1ZM481.32,246.1V242.47h0.08V246.1Z" fill="#931593"/>
<polygon points="515.00,246.10 515.00,244.80 517.00,244.50 519.50,244.00 521.50,243.50 522.60,244.00 522.60,246.10" fill="#931593" />
<path d="M515.00,246.1V242.89h0.34V246.1ZM515.34,246.1V243.77h0.34V246.1ZM515.68,246.1V242.53h0.34V246.1ZM516.02,246.1V242.49h0.34V246.1ZM516.36,246.1V242.87h0.34V246.1ZM516.70,246.1V242.61h0.34V246.1ZM517.04,246.1V242.53h0.34V246.1ZM517.38,246.1V243.35h0.34V246.1ZM517.72,246.1V242.44h0.34V246.1ZM518.06,246.1V244.07h0.34V246.1ZM518.40,246.1V243.27h0.34V246.1ZM518.74,246.1V242.84h0.34V246.1ZM519.08,246.1V244.02h0.34V246.1ZM519.42,246.1V242.98h0.34V246.1ZM519.76,246.1V242.12h0.34V246.1ZM520.10,246.1V242.08h0.34V246.1ZM520.44,246.1V243.09h0.34V246.1ZM520.78,246.1V241.06h0.34V246.1ZM521.12,246.1V241.75h0.34V246.1ZM521.46,246.1V242.67h0.34V246.1ZM521.80,246.1V242.13h0.34V246.1ZM522.14,246.1V242.62h0.34V246.1ZM522.48,246.1V242.89h0.12V246.1Z" fill="#931593"/>
<rect x="199.9" y="174.3" width="334.20000000000005" height="71.79999999999998" fill="none" stroke="#c8c8c8" stroke-width="1"/>
<text x="195.00" y="249.15" font-size="9" text-anchor="end" fill="#111" stroke="#111" stroke-width="0.08" >0</text>
<text x="195.00" y="232.48" font-size="9" text-anchor="end" fill="#111" stroke="#111" stroke-width="0.08" >20</text>
<text x="195.00" y="215.82" font-size="9" text-anchor="end" fill="#111" stroke="#111" stroke-width="0.08" >40</text>
<text x="195.00" y="199.15" font-size="9" text-anchor="end" fill="#111" stroke="#111" stroke-width="0.08" >60</text>
<text x="195.00" y="182.49" font-size="9" text-anchor="end" fill="#111" stroke="#111" stroke-width="0.08" >80</text>
<line x1="199.0" y1="246.10" x2="200.5" y2="246.10" stroke="#555" stroke-width="0.7"/>
<line x1="199.0" y1="237.77" x2="200.5" y2="237.77" stroke="#555" stroke-width="0.7"/>
<line x1="199.0" y1="229.43" x2="200.5" y2="229.43" stroke="#555" stroke-width="0.7"/>
<line x1="199.0" y1="221.10" x2="200.5" y2="221.10" stroke="#555" stroke-width="0.7"/>
<line x1="199.0" y1="212.77" x2="200.5" y2="212.77" stroke="#555" stroke-width="0.7"/>
<line x1="199.0" y1="204.44" x2="200.5" y2="204.44" stroke="#555" stroke-width="0.7"/>
<line x1="199.0" y1="196.10" x2="200.5" y2="196.10" stroke="#555" stroke-width="0.7"/>
<line x1="199.0" y1="187.77" x2="200.5" y2="187.77" stroke="#555" stroke-width="0.7"/>
<line x1="199.0" y1="179.44" x2="200.5" y2="179.44" stroke="#555" stroke-width="0.7"/>
<line x1="207.50" y1="245.5" x2="207.50" y2="247.29999999999998" stroke="#666" stroke-width="0.6"/>
<text x="207.50" y="256.00" font-size="9" text-anchor="middle" fill="#111" stroke="#111" stroke-width="0.08" >0.00</text>
<line x1="245.75" y1="245.5" x2="245.75" y2="247.29999999999998" stroke="#666" stroke-width="0.6"/>
<text x="245.75" y="256.00" font-size="9" text-anchor="middle" fill="#111" stroke="#111" stroke-width="0.08" >0.05</text>
<line x1="295.00" y1="245.5" x2="295.00" y2="247.29999999999998" stroke="#666" stroke-width="0.6"/>
<text x="295.00" y="256.00" font-size="9" text-anchor="middle" fill="#111" stroke="#111" stroke-width="0.08" >0.10</text>
<line x1="344.25" y1="245.5" x2="344.25" y2="247.29999999999998" stroke="#666" stroke-width="0.6"/>
<text x="344.25" y="256.00" font-size="9" text-anchor="middle" fill="#111" stroke="#111" stroke-width="0.08" >0.15</text>
<line x1="393.50" y1="245.5" x2="393.50" y2="247.29999999999998" stroke="#666" stroke-width="0.6"/>
<text x="393.50" y="256.00" font-size="9" text-anchor="middle" fill="#111" stroke="#111" stroke-width="0.08" >0.20</text>
<line x1="442.75" y1="245.5" x2="442.75" y2="247.29999999999998" stroke="#666" stroke-width="0.6"/>
<text x="442.75" y="256.00" font-size="9" text-anchor="middle" fill="#111" stroke="#111" stroke-width="0.08" >0.25</text>
<line x1="492.00" y1="245.5" x2="492.00" y2="247.29999999999998" stroke="#666" stroke-width="0.6"/>
<text x="492.00" y="256.00" font-size="9" text-anchor="middle" fill="#111" stroke="#111" stroke-width="0.08" >0.30</text>
</svg></body></html>
